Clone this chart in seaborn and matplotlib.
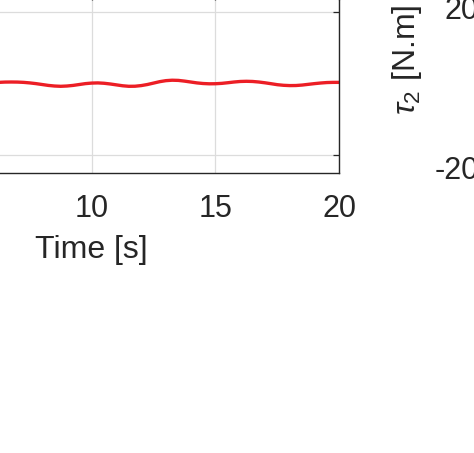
import numpy as np
import pandas as pd
import matplotlib
matplotlib.use("Agg")
import matplotlib.pyplot as plt
import seaborn as sns

# torque tau_1 (only t >= ~6 s is visible)
time_s = np.arange(5.0, 20.25, 0.25)
tau_vals = [
    -0.20, -0.10, 0.05, 0.20, 0.30, 0.40, 0.48, 0.50, 0.48, 0.40,
    0.25, 0.05, -0.20, -0.45, -0.62, -0.70, -0.62, -0.45, -0.20, 0.05,
    0.20, 0.25, 0.15, -0.05, -0.30, -0.55, -0.70, -0.68, -0.50, -0.20,
    0.20, 0.60, 0.88, 1.00, 0.95, 0.75, 0.50, 0.25, 0.08, 0.00,
    0.02, 0.12, 0.30, 0.50, 0.65, 0.70, 0.65, 0.50, 0.28, 0.02,
    -0.25, -0.42, -0.50, -0.48, -0.35, -0.15, 0.05, 0.22, 0.35, 0.40,
    0.40,
]
x_ticks = [0, 5, 10, 15, 20]
y_ticks = [-20, 20]
right_ticks = [-20, 20]

df = pd.DataFrame({"t": time_s, "tau": tau_vals})

sns.set_style("white")
plt.rcParams["font.family"] = ["Liberation Sans", "DejaVu Sans"]
plt.rcParams["mathtext.fontset"] = "custom"
plt.rcParams["mathtext.it"] = "Liberation Sans:italic"
plt.rcParams["mathtext.rm"] = "Liberation Sans"
plt.rcParams["axes.unicode_minus"] = False

fig = plt.figure(figsize=(4.74, 4.53), dpi=100)
W, H = 474.0, 453.0

# left panel, mostly off canvas
ax = fig.add_axes([-156 / W, (H - 173.3) / H, 495.3 / W, 179.0 / H])
sns.lineplot(data=df, x="t", y="tau", ax=ax, color="#ec1e25", lw=2.4)
ax.set_xlim(0, 20)
ax.set_ylim(-25, 25)
ax.set_xticks(x_ticks)
ax.set_yticks(y_ticks)
ax.grid(True, color="#dcdcdc", lw=0.9)
ax.tick_params(direction="in", length=4, width=0.9, color="#262626",
               top=True, right=True, labelsize=22, pad=15)
for s in ax.spines.values():
    s.set_color("#262626")
    s.set_linewidth(1.0)
ax.set_xlabel("Time [s]", fontsize=23, labelpad=8)
ax.set_ylabel("")

# right panel, only its labels show
ax2 = fig.add_axes([487 / W, (H - 187) / H, 200 / W, 199.0 / H])
ax2.set_ylim(-25, 25)
ax2.set_yticks(right_ticks)
ax2.set_xticks([])
ax2.tick_params(direction="in", length=4, labelsize=22, pad=6)
ax2.set_ylabel(r"$\tau_2$ [N.m]", fontsize=23)
ax2.yaxis.set_label_coords(424 / W, (H - 60) / H, transform=fig.transFigure)

fig.savefig("out.png", dpi=100)
